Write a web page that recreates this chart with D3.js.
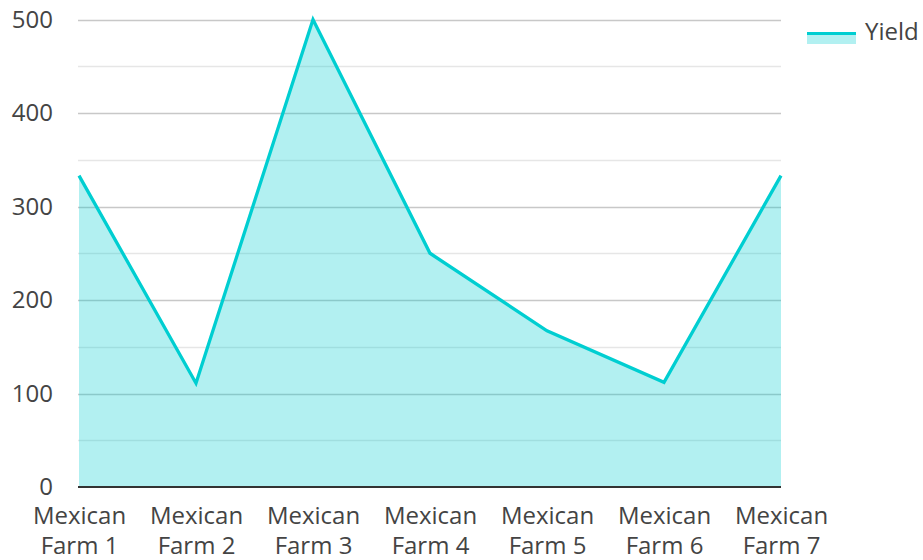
<!DOCTYPE html>
<html>
<head>
<meta charset="utf-8">
<script src="https://cdn.jsdelivr.net/npm/d3@7/dist/d3.min.js"></script>
<style>
  html, body { margin: 0; padding: 0; background: #fff; }
  svg { display: block; font-family: "Open Sans", "Noto Sans", sans-serif; }
</style>
</head>
<body>
<svg id="chart" width="923" height="560"></svg>
<script>
// Farm names (two-line labels) and yield per farm
const farms = ["Mexican Farm 1", "Mexican Farm 2", "Mexican Farm 3", "Mexican Farm 4", "Mexican Farm 5", "Mexican Farm 6", "Mexican Farm 7"];
const yieldValues = [333, 111, 500, 250, 167, 112, 333];
const yTicks = [0, 100, 200, 300, 400, 500];
const yMinorTicks = [50, 150, 250, 350, 450];
const seriesName = "Yield";

const color = "#00ced1";
const margin = { left: 79, right: 142, top: 19.5, bottom: 73 };
const W = 923, H = 560;
const fontSize = 24;

const svg = d3.select("#chart");
const x = d3.scalePoint().domain(farms).range([margin.left, W - margin.right]);
const y = d3.scaleLinear().domain([0, 500]).range([H - margin.bottom, margin.top]);

// gridlines
const grid = svg.append("g");
grid.selectAll("line.minor").data(yMinorTicks).join("line")
  .attr("x1", margin.left - 1).attr("x2", W - margin.right)
  .attr("y1", d => Math.round(y(d)) + 0.5).attr("y2", d => Math.round(y(d)) + 0.5)
  .attr("stroke", "#e6e6e6").attr("stroke-width", 1.5);
grid.selectAll("line.major").data(yTicks.filter(d => d > 0)).join("line")
  .attr("x1", margin.left - 1).attr("x2", W - margin.right)
  .attr("y1", d => Math.round(y(d)) + 0.5).attr("y2", d => Math.round(y(d)) + 0.5)
  .attr("stroke", "#c8c8c8").attr("stroke-width", 1.5);

// area + line
const data = farms.map((f, i) => ({ f, v: yieldValues[i] }));
svg.append("path").datum(data)
  .attr("d", d3.area().x(d => x(d.f)).y0(y(0)).y1(d => y(d.v)))
  .attr("fill", color).attr("fill-opacity", 0.3);
svg.append("path").datum(data)
  .attr("d", d3.line().x(d => x(d.f)).y(d => y(d.v)))
  .attr("fill", "none").attr("stroke", color).attr("stroke-width", 3.3)
  .attr("stroke-linejoin", "miter");

// baseline
svg.append("line")
  .attr("x1", margin.left - 1).attr("x2", W - margin.right)
  .attr("y1", y(0)).attr("y2", y(0))
  .attr("stroke", "#333").attr("stroke-width", 2);

// y axis labels
const yAxis = svg.append("g").attr("transform", `translate(${margin.left},0)`)
  .call(d3.axisLeft(y).tickValues(yTicks).tickSize(0).tickPadding(26));
yAxis.select(".domain").remove();
yAxis.selectAll("text").attr("font-size", fontSize).attr("fill", "#444")
  .attr("font-family", "'Open Sans', sans-serif");

// x axis labels (two lines)
const xAxis = svg.append("g").attr("transform", `translate(0,${y(0)})`)
  .call(d3.axisBottom(x).tickSize(0).tickFormat(""));
xAxis.select(".domain").remove();
xAxis.selectAll(".tick").each(function (d) {
  const words = d.split(" ");
  const t = d3.select(this).append("text")
    .attr("text-anchor", "middle").attr("font-size", fontSize).attr("fill", "#444")
    .attr("font-family", "'Open Sans', sans-serif");
  t.append("tspan").attr("x", 0).attr("y", 37).text(words[0]);
  t.append("tspan").attr("x", 0).attr("y", 67).text(words.slice(1).join(" "));
});

// legend
const lg = svg.append("g").attr("transform", "translate(807,32)");
lg.append("rect").attr("x", 0).attr("y", 0).attr("width", 49).attr("height", 12)
  .attr("fill", color).attr("fill-opacity", 0.3);
lg.append("line").attr("x1", 0).attr("x2", 49).attr("y1", 1.5).attr("y2", 1.5)
  .attr("stroke", color).attr("stroke-width", 3);
lg.append("text").attr("x", 58).attr("y", 8).text(seriesName)
  .attr("font-size", fontSize).attr("fill", "#444").attr("font-family", "'Open Sans', sans-serif");
</script>
</body>
</html>
